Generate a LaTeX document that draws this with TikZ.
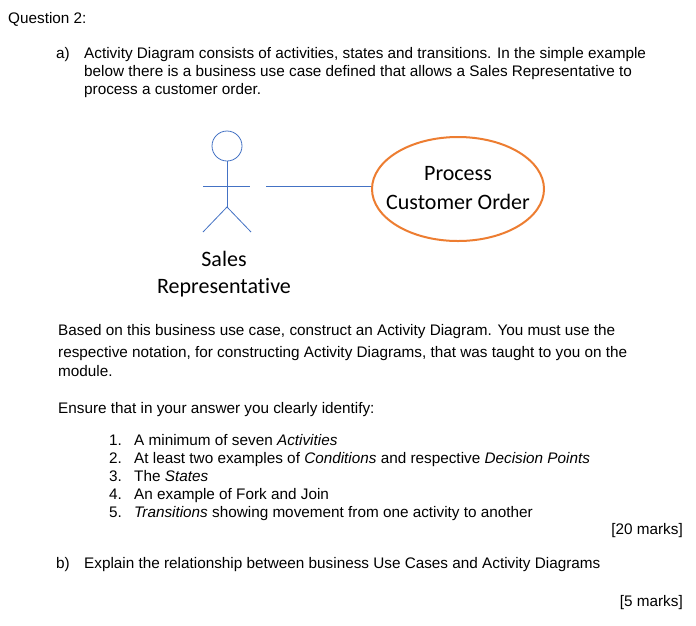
\documentclass[tikz,border=0pt]{standalone}
\usetikzlibrary{shapes.geometric}
\usepackage{fontspec}
\setmainfont{Liberation Sans}
\newfontfamily\carlitofont[Ligatures=NoCommon]{Carlito}
\definecolor{umlblue}{RGB}{68,114,196}
\definecolor{ucorange}{RGB}{237,125,49}
\begin{document}
\begin{tikzpicture}[x=1pt,y=-1pt,
  t/.style={anchor=base west,inner sep=0pt,font=\fontsize{15.3}{18}\selectfont},
  tr/.style={anchor=base east,inner sep=0pt,font=\fontsize{15.3}{18}\selectfont},
  uml/.style={draw=umlblue,line width=0.8pt},
  lab/.style={inner sep=0pt,font=\carlitofont\fontsize{22}{26}\selectfont}]
\useasboundingbox[fill=white] (0,0) rectangle (696,625);
\node[t] (q) at (8,23) {Question 2:};
\node[t] (a) at (56,58) {a)};
\node[t] (a1) at (84,58) {Activity Diagram consists of activities, states and transitions. In the simple example};
\node[t] (a2) at (84,76) {below there is a business use case defined that allows a Sales Representative to};
\node[t] (a3) at (84,94) {process a customer order.};
\draw[uml] (227,146) circle (15);
\draw[uml] (227,161) -- (227,207);
\draw[uml] (203,186) -- (250,186);
\draw[uml] (203,232) -- (227,207) -- (251,232);
\coordinate (la) at (266,186);
\node[draw=ucorange,line width=2pt,ellipse,minimum width=172,minimum height=104,inner sep=0pt] (uc) at (458,189) {};
\node[lab] (p1) at (458,174) {Process};
\node[lab] (p2) at (458,202) {Customer Order};
\draw[uml] (la) -- (la -| uc.west);
\node[lab] (s1) at (224,259) {Sales};
\node[lab] (s2) at (224,288) {Representative};
\node[t] (b1) at (58,335) {Based on this business use case, construct an Activity Diagram. You must use the};
\node[t] (b2) at (58,357) {respective notation, for constructing Activity Diagrams, that was taught to you on the};
\node[t] (b3) at (58,376) {module.};
\node[t] (e) at (58,413) {Ensure that in your answer you clearly identify:};
\node[t] (n1) at (109,445) {1.};\node[t] (l1) at (134,445) {A minimum of seven \textit{Activities}};
\node[t] (n2) at (109,463) {2.};\node[t] (l2) at (134,463) {At least two examples of \textit{Conditions} and respective \textit{Decision Points}};
\node[t] (n3) at (109,481) {3.};\node[t] (l3) at (134,481) {The \textit{States}};
\node[t] (n4) at (109,499) {4.};\node[t] (l4) at (134,499) {An example of Fork and Join};
\node[t] (n5) at (109,517) {5.};\node[t] (l5) at (134,517) {\textit{Transitions} showing movement from one activity to another};
\node[tr] (m1) at (683,534) {[20 marks]};
\node[t] (bb) at (56,568) {b)};
\node[t] (bb1) at (84,568) {Explain the relationship between business Use Cases and Activity Diagrams};
\node[tr] (m2) at (683,606) {[5 marks]};
\end{tikzpicture}
\end{document}
